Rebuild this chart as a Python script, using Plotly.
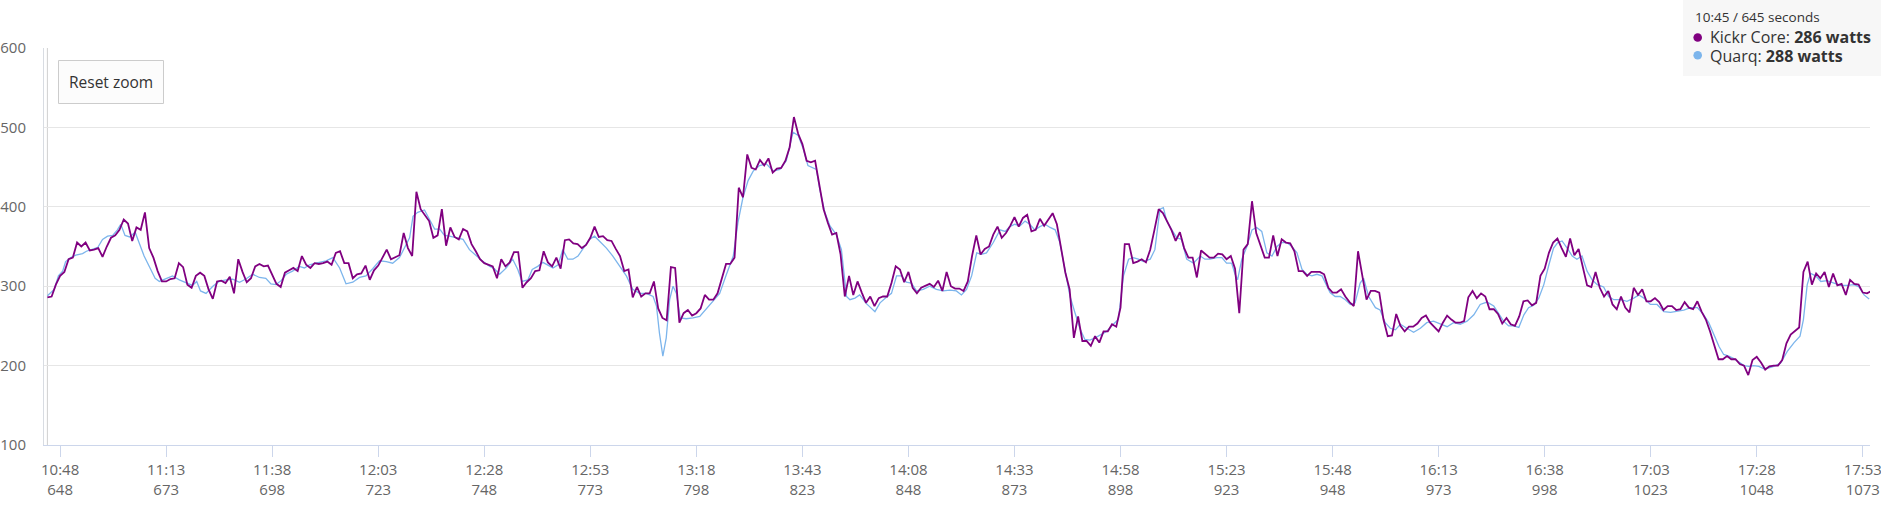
import plotly.graph_objects as go

# ---------------- data ----------------
kickr_start_second = 645
kickr_watts = [
    286, 287, 302, 313, 318, 334, 336, 355, 350, 355,
    345, 346, 348, 337, 350, 361, 364, 371, 384, 379,
    357, 374, 371, 393, 348, 336, 319, 306, 306, 309,
    310, 329, 324, 302, 298, 313, 317, 313, 296, 284,
    306, 307, 304, 312, 291, 334, 318, 305, 310, 325,
    328, 325, 326, 315, 303, 299, 317, 320, 323, 319,
    338, 327, 323, 329, 328, 329, 331, 327, 342, 344,
    329, 329, 310, 315, 316, 326, 308, 320, 326, 336,
    346, 334, 337, 339, 367, 348, 338, 419, 397, 390,
    382, 361, 364, 397, 351, 374, 362, 359, 372, 369,
    353, 344, 334, 329, 327, 325, 310,
    334, 325, 330, 343, 343, 298, 305, 310, 319, 320,
    344, 330, 325, 336, 322, 358, 359, 354, 353, 348,
    352, 361, 375, 362, 363, 358, 357, 347, 338, 319,
    321, 286, 299, 287, 291, 291, 306, 272, 260, 257,
    324, 323, 254, 266, 270, 263, 266, 272, 289, 283,
    283, 291, 308, 328, 328, 336, 424, 412, 466, 449,
    447, 459, 452, 461, 443, 448, 449, 458, 475, 513,
    492, 479, 458, 456, 458, 426, 397, 380, 365, 367,
    340, 287, 313, 289, 306, 292, 279, 287, 275, 285,
    287, 287, 304, 325, 321, 305, 318, 298, 291, 298,
    300, 303, 299, 307, 294, 318, 300, 297, 297, 294,
    306, 338, 364, 340, 347, 350, 365, 375,
    361, 367, 376, 387, 375, 386, 390, 369, 371, 385,
    376, 384, 392, 378, 350, 317, 296, 235, 262, 231,
    231, 225, 237, 229, 243, 243, 252, 249, 273, 353,
    353, 329, 331, 334, 330, 346, 371, 397, 392, 382,
    371, 357, 368, 348, 336, 336, 311, 345, 340, 336,
    336, 341, 340, 334, 338, 322, 266, 346, 353, 407,
    367, 350, 336, 336, 364, 338, 359, 355, 354, 344,
    319, 319, 313, 318, 318, 318, 315, 298, 292, 292,
    296, 287, 280, 275, 344, 313, 283, 294, 294, 292,
    258, 237, 238, 265, 250, 243, 249, 249, 253, 260,
    263, 254, 249, 243, 254, 263, 258, 254, 254, 256,
    286, 294, 285, 291, 287, 271, 271, 265,
    253, 260, 252, 250, 262, 281, 282, 276, 279, 313,
    322, 342, 355, 360, 348, 337, 360, 339, 347, 325,
    301, 299, 318, 298, 287, 294, 277, 271, 287, 273,
    267, 298, 289, 296, 281, 281, 285, 280, 270, 275,
    275, 270, 271, 280, 273, 271, 281, 268, 258, 243,
    224, 208, 208, 212, 208, 208, 202, 200, 188, 207,
    211, 204, 195, 199, 200, 200, 207, 228, 239, 243,
    248, 318, 331, 302, 316, 310, 318, 299, 316, 301,
    303, 289, 308, 303, 302, 292, 291, 294,
]
kickr_seconds = list(range(kickr_start_second, kickr_start_second + len(kickr_watts)))

quarq_seconds = [
    645.0, 646.6, 647.6, 648.6, 649.3, 650.5, 651.7, 653.3, 654.2, 655.6, 656.9, 658.0,
    659.2, 660.4, 661.5, 662.3, 663.3, 664.4, 665.7, 666.6, 667.8, 669.2, 670.4, 671.4,
    672.9, 674.5, 676.1, 677.7, 679.2, 680.2, 681.1, 682.4, 684.0, 685.5, 687.1, 688.7,
    690.3, 691.8, 693.4, 695.0, 696.5, 697.7, 698.9, 700.1, 701.3, 702.8, 704.4, 705.6,
    706.8, 708.3, 710.7, 712.3, 713.9, 715.4, 717.0, 718.6, 720.1, 721.7, 723.3, 724.9,
    726.4, 728.0, 729.2, 730.4, 731.2, 732.3, 733.9, 735.1, 736.3, 737.5, 738.6, 739.8,
    741.4, 743.0, 744.5, 746.1, 747.7, 749.3, 750.4,
    751.6, 753.2, 754.7, 755.9, 756.9, 758.3, 759.3, 760.6, 761.8, 763.0, 764.2, 765.4,
    766.5, 767.7, 768.9, 770.1, 771.3, 772.8, 774.0, 775.2, 776.8, 778.3, 779.9, 781.5,
    783.0, 784.6, 786.2, 787.8, 788.6, 789.3, 790.1, 790.9, 791.7, 792.5, 793.3, 794.2,
    795.6, 797.2, 798.8, 800.4, 801.9, 803.5, 805.1, 806.7, 807.8, 809.0, 810.2, 811.4,
    812.9, 814.5, 816.1, 817.7, 819.2, 820.8, 822.0, 823.2, 824.3, 825.5, 826.3, 827.1,
    828.3, 829.5, 831.0, 832.2, 833.4, 834.2, 835.4, 836.5, 838.1, 840.1, 841.3, 842.8,
    844.0, 845.2, 846.4, 847.5, 848.7, 849.9, 851.5, 853.0, 854.6, 856.2, 857.8, 859.3,
    860.5, 861.7, 862.9, 864.1, 865.2, 866.4, 868.0, 869.6,
    870.8, 871.9, 873.1, 874.3, 875.5, 876.6, 877.8, 879.0, 880.2, 881.4, 882.6, 883.7,
    884.9, 886.1, 887.3, 888.4, 889.6, 890.8, 892.0, 893.2, 894.7, 896.3, 897.5, 898.7,
    899.9, 901.0, 902.2, 903.4, 905.0, 906.1, 907.3, 908.1, 908.9, 910.1, 911.3, 912.4,
    913.6, 915.2, 916.8, 917.9, 919.1, 920.7, 921.9, 923.0, 924.2, 925.0, 925.6, 926.6,
    927.8, 929.0, 930.1, 931.3, 932.5, 933.7, 934.9, 936.0, 937.2, 938.4, 939.6, 940.8,
    941.9, 943.1, 944.3, 945.5, 946.3, 947.4, 948.6, 949.8, 951.0, 952.2, 953.3, 954.5,
    955.3, 956.5, 958.1, 959.2, 960.4, 961.6, 962.8, 964.0, 965.5, 967.1, 968.7, 970.2,
    971.8, 973.4, 975.0, 976.5, 978.1, 979.7, 981.3, 982.8, 984.4, 986.0, 987.5,
    988.3, 989.5, 990.7, 991.9, 993.1, 994.2, 995.4, 996.6, 997.8, 999.0, 1000.1, 1001.1,
    1002.1, 1003.3, 1004.5, 1005.6, 1006.8, 1008.0, 1009.2, 1010.4, 1011.9, 1013.1, 1014.3, 1015.9,
    1017.4, 1019.0, 1020.2, 1021.4, 1022.9, 1024.5, 1026.1, 1027.7, 1029.2, 1030.8, 1032.4, 1034.0,
    1035.5, 1036.7, 1037.9, 1039.1, 1040.2, 1041.4, 1042.6, 1043.8, 1045.0, 1046.1, 1047.3, 1048.5,
    1049.7, 1050.9, 1052.0, 1053.6, 1055.2, 1056.8, 1058.2, 1059.0, 1059.9, 1060.7, 1061.9, 1063.1,
    1064.6, 1066.2, 1067.8, 1069.4, 1070.9, 1072.1, 1073.3, 1074.5,
]
quarq_watts = [
    288, 296, 313, 319, 331, 336, 339, 341, 344, 347, 349, 359,
    363, 364, 371, 378, 364, 362, 368, 355, 338, 323, 310, 306,
    309, 313, 308, 304, 301, 306, 294, 291, 300, 306, 308, 309,
    305, 309, 315, 311, 310, 303, 302, 307, 315, 319, 325, 323,
    327, 329, 332, 336, 323, 303, 305, 311, 313, 322, 332, 331,
    329, 336, 348, 361, 388, 393, 396, 384, 372, 372, 364, 363,
    361, 359, 346, 338, 331, 325, 322,
    315, 323, 334, 321, 306, 308, 321, 325, 330, 327, 323, 327,
    346, 334, 334, 338, 347, 359, 363, 357, 348, 338, 325, 313,
    296, 291, 291, 287, 275, 241, 212, 235, 283, 300, 291, 260,
    259, 260, 262, 272, 281, 291, 315, 338, 380, 412, 433, 445,
    452, 454, 445, 447, 458, 494, 490, 473, 452, 449, 447, 422,
    393, 376, 365, 346, 287, 283, 285, 289, 278, 268, 279, 286,
    291, 313, 313, 305, 304, 294, 296, 300, 296, 294, 295, 294,
    289, 296, 313, 342, 340, 342, 355, 371,
    369, 375, 378, 376, 382, 378, 371, 375, 378, 374, 371, 355,
    321, 287, 266, 247, 233, 232, 235, 239, 243, 252, 258, 313,
    334, 336, 334, 331, 334, 346, 397, 399, 382, 371, 361, 359,
    334, 329, 338, 334, 334, 336, 336, 329, 329, 315, 308, 334,
    350, 371, 374, 369, 342, 338, 350, 355, 355, 350, 342, 321,
    315, 313, 315, 313, 304, 292, 287, 287, 283, 277, 279, 304,
    310, 287, 273, 270, 254, 247, 245, 252, 247, 242, 247, 254,
    256, 252, 249, 254, 252, 256, 264, 277, 280, 275, 262,
    256, 250, 250, 248, 264, 273, 276, 285, 302, 327, 348, 355,
    357, 348, 338, 334, 338, 319, 308, 302, 299, 287, 283, 283,
    281, 285, 289, 285, 277, 277, 268, 267, 268, 270, 273, 273,
    264, 254, 239, 224, 214, 212, 209, 204, 200, 199, 200, 199,
    196, 197, 199, 203, 218, 229, 237, 258, 302, 316, 313, 306,
    307, 304, 301, 301, 302, 299, 289, 284,
]

tick_seconds = [648, 673, 698, 723, 748, 773, 798, 823, 848, 873, 898, 923,
                948, 973, 998, 1023, 1048, 1073]
y_ticks = [100, 200, 300, 400, 500, 600]

series_names = ["Kickr Core", "Quarq"]
series_colors = ["#800080", "#7cb5ec"]

hover_second = 645
hover_kickr = 286
hover_quarq = 288

# ---------------- layout geometry ----------------
WIDTH, HEIGHT = 1881, 506
L, R, T, B = 44, 1870, 48, 445
PW, PH = R - L, B - T


def px(x):
    return (x - L) / PW


def py(y):
    return (B - y) / PH


FONT = "Open Sans"


def fmt_time(s):
    s = int(s)
    return f"{s // 60}:{s % 60:02d}"


tick_text = [f"{fmt_time(t)}<br>{t}" for t in tick_seconds]

fig = go.Figure()
fig.add_trace(go.Scatter(x=quarq_seconds, y=quarq_watts, mode="lines",
                         name=series_names[1],
                         line=dict(color=series_colors[1], width=1.3),
                         hoverinfo="skip"))
fig.add_trace(go.Scatter(x=kickr_seconds, y=kickr_watts, mode="lines",
                         name=series_names[0],
                         line=dict(color=series_colors[0], width=1.8),
                         hoverinfo="skip"))

shapes = []
# crosshair at hovered point
shapes.append(dict(type="line", xref="x", yref="y", x0=hover_second, x1=hover_second,
                   y0=100, y1=600, line=dict(color="#d0d0d0", width=1), layer="below"))
# reset zoom button
shapes.append(dict(type="rect", xref="paper", yref="paper",
                   x0=px(58.5), x1=px(163.5), y0=py(103.5), y1=py(60.5),
                   line=dict(color="#cccccc", width=1), fillcolor="#fcfcfc"))
# tooltip box
shapes.append(dict(type="rect", xref="paper", yref="paper",
                   x0=px(1683), x1=px(1885), y0=py(76), y1=py(-4),
                   line=dict(width=0), fillcolor="#f7f7f7"))
# tooltip dots
for cy, col in [(37.5, series_colors[0]), (55.2, series_colors[1])]:
    shapes.append(dict(type="circle", xref="paper", yref="paper",
                       x0=px(1697.7 - 4.3), x1=px(1697.7 + 4.3),
                       y0=py(cy + 4.3), y1=py(cy - 4.3),
                       line=dict(width=0), fillcolor=col))

annotations = [
    dict(xref="paper", yref="paper", x=px(111), y=py(81.5), text="Reset zoom",
         showarrow=False, xanchor="center", yanchor="middle",
         font=dict(family=FONT, size=15.5, color="#333333")),
    dict(xref="paper", yref="paper", x=px(1693), y=py(17.5),
         text=f"{fmt_time(hover_second)} / {hover_second} seconds",
         showarrow=False, xanchor="left", yanchor="middle",
         font=dict(family=FONT, size=13.5, color="#333333")),
    dict(xref="paper", yref="paper", x=px(1708), y=py(37.5),
         text=f"{series_names[0]}: <b>{hover_kickr} watts</b>",
         showarrow=False, xanchor="left", yanchor="middle",
         font=dict(family=FONT, size=16, color="#333333")),
    dict(xref="paper", yref="paper", x=px(1708), y=py(55.5),
         text=f"{series_names[1]}: <b>{hover_quarq} watts</b>",
         showarrow=False, xanchor="left", yanchor="middle",
         font=dict(family=FONT, size=16, color="#333333")),
]

fig.update_layout(
    width=WIDTH, height=HEIGHT,
    margin=dict(l=L, r=WIDTH - R, t=T, b=HEIGHT - B, pad=0, autoexpand=False),
    paper_bgcolor="white", plot_bgcolor="white",
    showlegend=False,
    font=dict(family=FONT, size=15, color="#666666"),
    shapes=shapes, annotations=annotations,
    xaxis=dict(range=[644.2, 1074.7], tickmode="array", tickvals=tick_seconds,
               ticktext=tick_text, ticks="outside", ticklen=11, tickwidth=1,
               tickcolor="#ccd6eb", showline=True, linecolor="#ccd6eb", linewidth=1,
               showgrid=False, zeroline=False, automargin=False,
               ticklabeloverflow="allow",
               tickfont=dict(family=FONT, size=15, color="#666666")),
    yaxis=dict(range=[100, 600], tickmode="array", tickvals=y_ticks,
               showgrid=True, gridcolor="#e6e6e6", gridwidth=1,
               showline=True, linecolor="#d8dce2", linewidth=1,
               ticks="", zeroline=False, automargin=False,
               ticklabelstandoff=14, ticklabeloverflow="allow",
               tickfont=dict(family=FONT, size=15, color="#666666")),
)

fig.write_html("out.html")
